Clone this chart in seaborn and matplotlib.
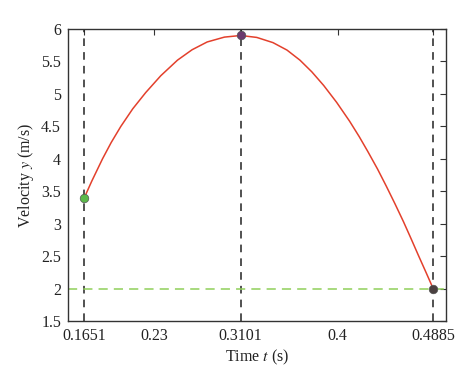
import numpy as np
import pandas as pd
import matplotlib
matplotlib.use("Agg")
import matplotlib.pyplot as plt
import seaborn as sns

# Values
time_s = [0.1651, 0.172, 0.182, 0.190, 0.199, 0.210, 0.222, 0.236, 0.2515, 0.265,
          0.279, 0.295, 0.3101, 0.325, 0.340, 0.353, 0.365, 0.376, 0.387, 0.399,
          0.411, 0.420, 0.428, 0.437, 0.445, 0.453, 0.461, 0.468, 0.4746, 0.482, 0.4885]
velocity = [3.40, 3.655, 4.00, 4.25, 4.50, 4.77, 5.02, 5.28, 5.52, 5.68,
            5.80, 5.875, 5.90, 5.87, 5.79, 5.675, 5.52, 5.34, 5.13, 4.87,
            4.58, 4.34, 4.11, 3.84, 3.58, 3.31, 3.03, 2.77, 2.52, 2.245, 2.00]

# Key points (start, peak, end)
key_t = [0.1651, 0.3101, 0.4885]
key_v = [3.40, 5.90, 2.00]
key_colors = ["#5cb84a", "#6b3a6e", "#4a4040"]

x_ticks = [0.1651, 0.23, 0.3101, 0.4, 0.4885]
x_tick_labels = ["0.1651", "0.23", "0.3101", "0.4", "0.4885"]
y_ticks = [1.5, 2, 2.5, 3, 3.5, 4, 4.5, 5, 5.5, 6]
y_tick_labels = ["1.5", "2", "2.5", "3", "3.5", "4", "4.5", "5", "5.5", "6"]
threshold = 2.0

sns.set_style("white")
plt.rcParams['font.family'] = ['Liberation Serif', 'DejaVu Serif']
plt.rcParams['mathtext.fontset'] = 'stix'

df = pd.DataFrame({"t": time_s, "v": velocity})

fig = plt.figure(figsize=(4.74, 3.84), dpi=100)
ax = fig.add_axes([0.1435, 0.164, 0.7965, 0.7605])

# reference lines
for xv in key_t:
    ax.axvline(xv, color="#222222", linestyle=(0, (5, 4)), linewidth=1.1, zorder=1)
ax.axhline(threshold, color="#8fcf5a", linestyle=(0, (6, 4)), linewidth=1.1, zorder=1)

sns.lineplot(data=df, x="t", y="v", ax=ax, color="#e3402c", linewidth=1.1, zorder=2)

for t, v, c in zip(key_t, key_v, key_colors):
    ax.scatter([t], [v], s=38, color=c, edgecolor="#555555", linewidth=0.5, zorder=3)

ax.set_xlim(0.15, 0.5)
ax.set_ylim(1.5, 6)
ax.set_xticks(x_ticks)
ax.set_xticklabels(x_tick_labels)
ax.set_yticks(y_ticks)
ax.set_yticklabels(y_tick_labels)
ax.tick_params(direction="in", top=True, right=True, length=4, width=0.8,
               labelsize=11.5, color="#333333", labelcolor="#222222", pad=5)
for s in ax.spines.values():
    s.set_color("#333333")
    s.set_linewidth(1.0)

ax.set_xlabel("Time $t$ (s)", fontsize=11.5, color="#222222", labelpad=3)
ax.set_ylabel("Velocity $y$ (m/s)", fontsize=11.5, color="#222222", labelpad=4)

fig.savefig("out.png", dpi=100)
